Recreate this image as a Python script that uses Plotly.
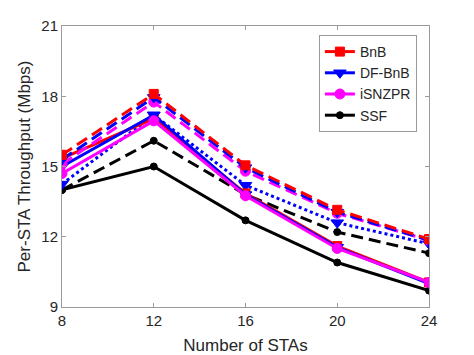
import plotly.graph_objects as go

stas = [8, 12, 16, 20, 24]

bnb_dash = [15.5, 18.1, 15.05, 13.15, 11.9]
dfbnb_dash = [15.3, 17.95, 14.95, 13.05, 11.85]
isnzpr_dash = [15.1, 17.75, 14.8, 13.0, 11.85]
bnb_solid = [15.35, 17.05, 13.85, 11.6, 10.05]
dfbnb_solid = [15.0, 17.2, 13.8, 11.55, 10.0]
isnzpr_solid = [14.7, 16.95, 13.75, 11.5, 10.05]
dfbnb_dot = [14.25, 17.2, 14.2, 12.6, 11.7]
ssf_dash = [14.0, 16.1, 13.8, 12.2, 11.3]
ssf_solid = [14.0, 15.0, 12.7, 10.9, 9.7]

xticks = [8, 12, 16, 20, 24]
yticks = [9, 12, 15, 18, 21]

RED = "#ff0000"
BLUE = "#0000ff"
MAG = "#ff00ff"
BLK = "#000000"

DASH = "12px,6px"
FONT = "Liberation Sans, Arial"

fig = go.Figure()

def add(y, color, dash, symbol, msize, name=None, legend=False, rank=None):
    fig.add_trace(go.Scatter(
        x=stas, y=y, mode="lines+markers",
        line=dict(color=color, width=3, dash=dash),
        marker=dict(color=color, symbol=symbol, size=msize,
                    line=dict(color=color, width=1)),
        name=name if name else "", showlegend=legend,
        legendrank=rank if rank else 1000,
    ))

add(ssf_solid, BLK, "solid", "circle", 7, "SSF", True, 4)
add(ssf_dash, BLK, DASH, "circle", 7)
add(dfbnb_dot, BLUE, "dot", "triangle-down", 11)
add(bnb_solid, RED, "solid", "square", 9, "BnB", True, 1)
add(dfbnb_solid, BLUE, "solid", "triangle-down", 11, "DF-BnB", True, 2)
add(isnzpr_solid, MAG, "solid", "circle", 10, "iSNZPR", True, 3)
add(isnzpr_dash, MAG, DASH, "circle", 10)
add(dfbnb_dash, BLUE, DASH, "triangle-down", 11)
add(bnb_dash, RED, DASH, "square", 9)

axis_common = dict(
    showline=True, linecolor="#9a9a9a", linewidth=1, mirror="ticks",
    ticks="inside", ticklen=4, tickcolor="#9a9a9a",
    showgrid=False, zeroline=False, automargin=False,
    tickfont=dict(family=FONT, size=15, color="#262626"),
)

fig.update_xaxes(range=[8, 24], tickvals=xticks, ticktext=[str(v) for v in xticks],
                 title=dict(text="Number of STAs", font=dict(family=FONT, size=17, color="#262626"), standoff=11),
                 **axis_common)
fig.update_yaxes(range=[9, 21], tickvals=yticks, ticktext=[str(v) for v in yticks],
                 title=dict(text="Per-STA Throughput (Mbps)", font=dict(family=FONT, size=17, color="#262626"), standoff=6),
                 **axis_common)

fig.update_layout(
    width=474, height=355,
    margin=dict(l=62, r=45, t=26, b=48),
    plot_bgcolor="white", paper_bgcolor="white",
    legend=dict(x=0.70, y=0.968, xanchor="left", yanchor="top",
                bgcolor="white", bordercolor="#9a9a9a", borderwidth=1,
                font=dict(family=FONT, size=14, color="#262626"),
                tracegroupgap=0, itemwidth=30),
)

fig.write_html("out.html", config={"displayModeBar": False},
               post_script="document.body.style.margin='0px';")
